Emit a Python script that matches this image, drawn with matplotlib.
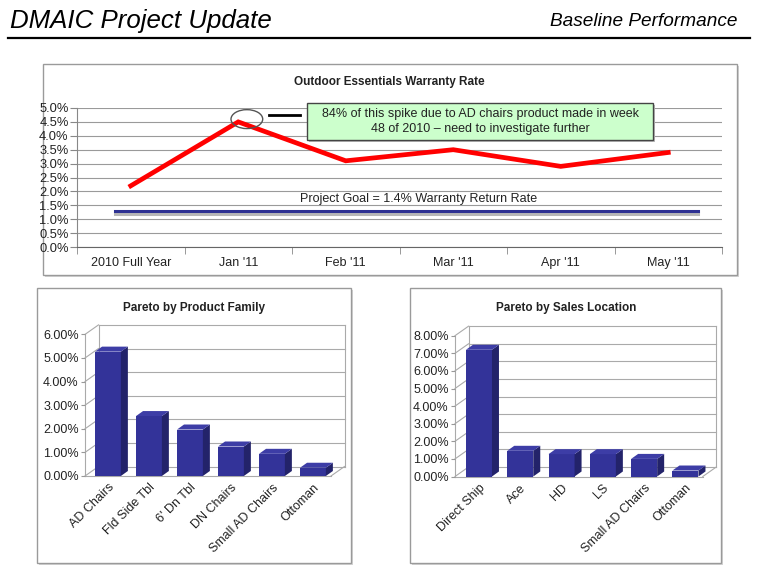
import numpy as np
import matplotlib
matplotlib.use('Agg')
import matplotlib.pyplot as plt
from matplotlib.patches import Rectangle, Ellipse, Polygon
from matplotlib.lines import Line2D
import matplotlib.patheffects as pe

plt.rcParams['font.family'] = ['Liberation Sans', 'DejaVu Sans']

# ---------------- data ----------------
trend_labels = ['2010 Full Year', "Jan '11", "Feb '11", "Mar '11", "Apr '11", "May '11"]
warranty_rate = [2.2, 4.5, 3.1, 3.5, 2.9, 3.4]
goal_level = 1.3
top_yticks = [0.0, 0.5, 1.0, 1.5, 2.0, 2.5, 3.0, 3.5, 4.0, 4.5, 5.0]

family_labels = ['AD Chairs', 'Fld Side Tbl', "6' Dn Tbl", 'DN Chairs', 'Small AD Chairs', 'Ottoman']
family_rate = [5.27, 2.54, 1.97, 1.25, 0.94, 0.35]
family_yticks = [0, 1, 2, 3, 4, 5, 6]

location_labels = ['Direct Ship', 'Ace', 'HD', 'LS', 'Small AD Chairs', 'Ottoman']
location_rate = [7.2, 1.46, 1.27, 1.27, 1.0, 0.34]
location_yticks = [0, 1, 2, 3, 4, 5, 6, 7, 8]

# ---------------- layout helpers ----------------
W, H = 768, 576
fig = plt.figure(figsize=(7.68, 5.76), dpi=100)
TXT = '#222222'


def rect(x0, y0, x1, y1):
    return [x0 / W, 1 - y1 / H, (x1 - x0) / W, (y1 - y0) / H]


def frame(x0, y0, x1, y1):
    sh = Rectangle(((x0 + 2) / W, 1 - (y1 + 2) / H), (x1 - x0) / W, (y1 - y0) / H,
                   transform=fig.transFigure, facecolor='#d4d4d4', edgecolor='none', zorder=-3)
    fig.add_artist(sh)
    m = Rectangle((x0 / W, 1 - y1 / H), (x1 - x0) / W, (y1 - y0) / H,
                  transform=fig.transFigure, facecolor='white', edgecolor='#9a9a9a', lw=1, zorder=-2)
    fig.add_artist(m)


# ---------------- header ----------------
fig.text(10 / W, 1 - 21 / H, 'DMAIC Project Update', fontsize=18.6, style='italic',
         ha='left', va='center', color='black')
fig.text(737 / W, 1 - 22 / H, 'Baseline Performance', fontsize=13.7, style='italic',
         ha='right', va='center', color='black')
fig.add_artist(Line2D([8 / W, 750 / W], [1 - 38 / H, 1 - 38 / H], color='black', lw=1.6,
                      transform=fig.transFigure))

# ---------------- top trend chart ----------------
frame(43, 64, 737, 275)
fig.text(389 / W, 1 - 82 / H, 'Outdoor Essentials Warranty Rate', fontsize=8.5,
         weight='bold', ha='center', va='center', color=TXT)

ax1 = fig.add_axes(rect(77, 108, 722, 247))
ax1.patch.set_alpha(0)
x = np.arange(len(trend_labels))
ax1.set_xlim(-0.5, len(trend_labels) - 0.5)
ax1.set_ylim(0, 5)
ax1.set_yticks(top_yticks, [f'{v:.1f}%' for v in top_yticks])
ax1.yaxis.grid(True, color='#9a9a9a', lw=0.8)
ax1.set_axisbelow(True)
for s in ['top', 'right']:
    ax1.spines[s].set_visible(False)
ax1.spines['left'].set_color('#888888')
ax1.spines['bottom'].set_color('#666666')
ax1.set_xticks(x, trend_labels)
ax1.set_xticks(np.arange(-0.5, len(trend_labels), 1), minor=True)
ax1.tick_params(axis='x', which='major', length=0, pad=7, labelsize=9, labelcolor=TXT)
ax1.tick_params(axis='x', which='minor', length=5, color='#888888')
ax1.tick_params(axis='y', length=5, color='#888888', labelsize=9.3, pad=1, labelcolor=TXT)

ax1.plot(x, warranty_rate, color='#ff0000', lw=3.4, solid_joinstyle='miter', zorder=4)
ax1.axhline(goal_level, xmin=0.059, xmax=0.963, color='#2e3192', lw=2.2, zorder=3,
            path_effects=[pe.SimpleLineShadow(offset=(0, -2.5), shadow_color='#888888', alpha=0.6),
                          pe.Normal()])
ax1.text(0.53, goal_level + 0.43, 'Project Goal = 1.4% Warranty Return Rate',
         transform=ax1.get_yaxis_transform(), ha='center', va='center', fontsize=9, color=TXT)

# callout
ax1.add_patch(Ellipse((1 + 0.08, warranty_rate[1] + 0.1), 0.295, 0.68, fill=False,
                      edgecolor='#555555', lw=1, clip_on=False, zorder=5))
fig.add_artist(Line2D([269 / W, 300 / W], [1 - 115 / H, 1 - 115 / H], color='black', lw=2,
                      transform=fig.transFigure, zorder=6))
fig.add_artist(Rectangle((309 / W, 1 - 142 / H), 346 / W, 37 / H, transform=fig.transFigure,
                         facecolor='#bbbbbb', edgecolor='none', zorder=5))
fig.add_artist(Rectangle((307 / W, 1 - 140 / H), 346 / W, 37 / H, transform=fig.transFigure,
                         facecolor='#ccffcc', edgecolor='#444444', lw=1, zorder=6))
fig.text(480 / W, 1 - 121.5 / H,
         '84% of this spike due to AD chairs product made in week\n48 of 2010 \u2013 need to investigate further',
         ha='center', va='center', fontsize=9, color=TXT, linespacing=1.3, zorder=7)


# ---------------- pareto 3D-look bar charts ----------------
def pareto(frame_px, title, title_xy, labels, vals, yticks, x0, y0, cat, unit,
           wall=(13.5, 9.5), bar_w=0.63, bar_off=0.06, depth=(7.0, 5.0)):
    frame(*frame_px)
    fig.text(title_xy[0] / W, 1 - title_xy[1] / H, title, fontsize=8.5, weight='bold',
             ha='center', va='center', color=TXT)
    n = len(labels)
    ymax = yticks[-1]
    xr = x0 + n * cat + wall[0]
    ytop = y0 - ymax * unit - wall[1]
    ax = fig.add_axes(rect(x0, ytop, xr, y0))
    ax.patch.set_alpha(0)
    ax.set_xlim(-0.5, -0.5 + (xr - x0) / cat)
    ax.set_ylim(0, (y0 - ytop) / unit)
    for s in ax.spines.values():
        s.set_visible(False)
    wdx, wdy = wall[0] / cat, wall[1] / unit
    xb, xe = -0.5 + wdx, n - 0.5 + wdx
    gc = '#aaaaaa'
    kw = dict(color=gc, lw=0.8, clip_on=False, zorder=1)
    for v in yticks:
        ax.plot([xb, xe], [v + wdy, v + wdy], **kw)
        ax.plot([-0.5, xb], [v, v + wdy], **kw)
    ax.plot([xb, xb], [wdy, ymax + wdy], **kw)
    ax.plot([xe, xe], [wdy, ymax + wdy], **kw)
    ax.plot([-0.5, -0.5], [0, ymax], **kw)
    ax.plot([-0.5, n - 0.5], [0, 0], **kw)
    ax.plot([n - 0.5, xe], [0, wdy], **kw)

    bdx, bdy = depth[0] / cat, depth[1] / unit
    xc = np.arange(n) + bar_off
    ax.bar(xc, vals, width=bar_w, color='#333399', edgecolor='none', zorder=3, clip_on=False)
    for c, v in zip(xc, vals):
        xl, xrr = c - bar_w / 2, c + bar_w / 2
        ax.add_patch(Polygon([(xrr, 0), (xrr + bdx, bdy), (xrr + bdx, v + bdy), (xrr, v)],
                             closed=True, facecolor='#23236a', edgecolor='none', zorder=3, clip_on=False))
        ax.add_patch(Polygon([(xl, v), (xl + bdx, v + bdy), (xrr + bdx, v + bdy), (xrr, v)],
                             closed=True, facecolor='#3d3da6', edgecolor='none', zorder=3, clip_on=False))

    ax.set_yticks(yticks, [f'{v:.2f}%' for v in yticks])
    ax.tick_params(axis='y', length=3, color='#999999', labelsize=9, pad=1.5, labelcolor=TXT)
    ax.set_xticks(xc, labels)
    ax.tick_params(axis='x', length=0, pad=4, labelsize=9, labelcolor=TXT)
    for lab in ax.get_xticklabels():
        lab.set_rotation(45)
        lab.set_ha('right')
        lab.set_rotation_mode('anchor')
    return ax


pareto((37, 288, 351, 563), 'Pareto by Product Family', (194, 308),
       family_labels, family_rate, family_yticks, x0=85, y0=476, cat=41.0, unit=23.6)
pareto((410, 288, 721, 563), 'Pareto by Sales Location', (566, 308),
       location_labels, location_rate, location_yticks, x0=455, y0=476.5, cat=41.3, unit=17.6,
       bar_off=0.08)

fig.savefig('out.png', dpi=100)
